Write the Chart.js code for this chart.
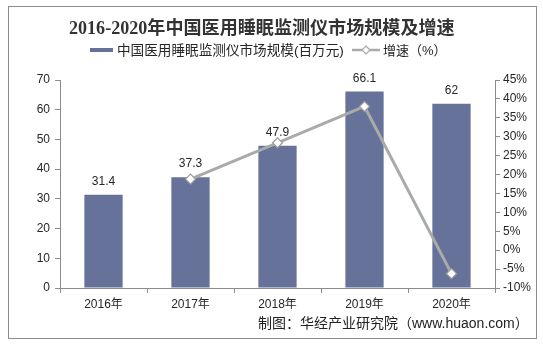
<!DOCTYPE html>
<html>
<head>
<meta charset="utf-8">
<script src="https://cdn.jsdelivr.net/npm/chart.js@4"></script>
<style>
  html, body { margin: 0; padding: 0; background: #fff; }
  #wrap { width: 543px; height: 346px; position: relative; }
</style>
</head>
<body>
<div id="wrap"><canvas id="c" width="543" height="346"></canvas></div>
<script>
const TITLE = "2016-2020年中国医用睡眠监测仪市场规模及增速";
const SOURCE = "制图：华经产业研究院（www.huaon.com）";
const years = ["2016年", "2017年", "2018年", "2019年", "2020年"];
const marketSize = [31.4, 37.3, 47.9, 66.1, 62];          // 百万元
const growth = [null, 18.8, 28.4, 38.0, -6.2];             // %
const SIZE_LABEL = "中国医用睡眠监测仪市场规模(百万元)";
const GROWTH_LABEL = "增速（%）";

const BAR = "#67729a", LINE = "#a8aca8", INK = "#262626";
const SANS = "'Liberation Sans', 'Noto Sans CJK SC', sans-serif";
const SERIF = "'Liberation Serif', 'Noto Sans CJK SC', serif";

// pick a font size so the text spans roughly the same width as in the source
function fitFont(ctx, text, weight, family, base, target) {
  ctx.font = weight + " " + base + "px " + family;
  const s = base * target / ctx.measureText(text).width;
  ctx.font = weight + " " + s.toFixed(2) + "px " + family;
}

// frame, title, legend, footer, bar value labels
const decor = {
  id: "decor",
  afterDraw(chart) {
    const ctx = chart.ctx;
    ctx.save();
    ctx.strokeStyle = "#8c8c8c"; ctx.lineWidth = 1;
    ctx.strokeRect(8.5, 6.5, 528, 332);

    ctx.fillStyle = "#333";
    fitFont(ctx, TITLE, "bold", SERIF, 16, 386);
    ctx.textAlign = "left"; ctx.textBaseline = "middle";
    ctx.fillText(TITLE, 69, 29);

    // legend
    ctx.fillStyle = BAR; ctx.fillRect(90, 48, 23, 4);
    ctx.fillStyle = INK;
    fitFont(ctx, SIZE_LABEL, "normal", SANS, 13, 227);
    ctx.fillText(SIZE_LABEL, 117, 51);
    ctx.strokeStyle = LINE; ctx.lineWidth = 2.5;
    ctx.beginPath(); ctx.moveTo(352, 50); ctx.lineTo(380, 50); ctx.stroke();
    ctx.fillStyle = "#fff"; ctx.lineWidth = 1.2;
    ctx.beginPath(); ctx.moveTo(366, 46); ctx.lineTo(370, 50); ctx.lineTo(366, 54); ctx.lineTo(362, 50); ctx.closePath();
    ctx.fill(); ctx.stroke();
    ctx.fillStyle = INK;
    ctx.font = "13px " + SANS;
    ctx.fillText(GROWTH_LABEL, 383, 51);

    // footer
    ctx.font = "14px " + SANS; ctx.fillStyle = "#222";
    ctx.fillText(SOURCE, 258, 324);

    // value labels above bars
    const meta = chart.getDatasetMeta(1);
    ctx.font = "12px " + SANS; ctx.textAlign = "center"; ctx.fillStyle = INK;
    meta.data.forEach((bar, i) => {
      ctx.fillText(String(marketSize[i]), bar.x, bar.y - 13);
    });
    ctx.restore();
  }
};

new Chart(document.getElementById("c"), {
  data: {
    labels: years,
    datasets: [
      { type: "line", label: GROWTH_LABEL, data: growth, yAxisID: "y2", order: 0,
        borderColor: LINE, borderWidth: 3, pointStyle: "rectRot", pointRadius: 5,
        pointBackgroundColor: "#fff", pointBorderColor: "#9a9e9a", pointBorderWidth: 1.2,
        spanGaps: false, tension: 0 },
      { type: "bar", label: SIZE_LABEL, data: marketSize, yAxisID: "y", order: 1,
        backgroundColor: BAR, categoryPercentage: 0.88, barPercentage: 0.5 }
    ]
  },
  options: {
    responsive: false, animation: false, devicePixelRatio: 1,
    layout: { padding: { top: 80, left: 0, right: 0, bottom: 0 } },
    plugins: { legend: { display: false }, title: { display: false }, tooltip: { enabled: false } },
    scales: {
      x: {
        afterFit(s) { s.height = 58; },
        grid: { drawOnChartArea: false, color: "#8c8c8c", tickLength: 5, offset: true },
        border: { color: "#8c8c8c" },
        ticks: { color: INK, font: { size: 12, family: SANS }, padding: 4 }
      },
      y: {
        position: "left", min: 0, max: 70,
        afterFit(s) { s.width = 60; },
        grid: { drawOnChartArea: false, color: "#8c8c8c", tickLength: 5 },
        border: { color: "#8c8c8c" },
        ticks: { stepSize: 10, color: INK, font: { size: 12, family: SANS }, padding: 5 }
      },
      y2: {
        position: "right", min: -10, max: 45,
        afterFit(s) { s.width = 48; },
        grid: { drawOnChartArea: false, color: "#8c8c8c", tickLength: 5 },
        border: { color: "#8c8c8c" },
        ticks: { stepSize: 5, color: INK, font: { size: 12, family: SANS }, padding: 3,
                 callback: v => v + "%" }
      }
    }
  },
  plugins: [decor]
});
</script>
</body>
</html>
